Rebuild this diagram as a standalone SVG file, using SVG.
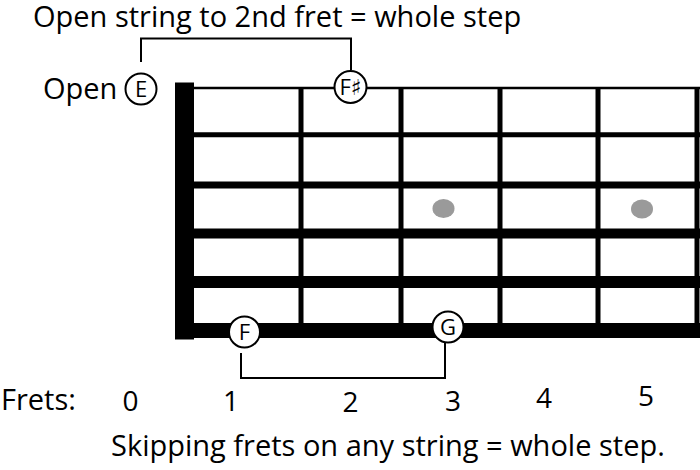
<svg xmlns="http://www.w3.org/2000/svg" width="700" height="470" viewBox="0 0 700 470">
<style>
text{font-family:"Open Sans","DejaVu Sans",sans-serif;fill:#000}
.lbl{font-size:29px}
.num{font-size:28px;text-anchor:middle}
.note{font-size:22px;text-anchor:middle}
.str{stroke:#000;fill:none}
.fret{stroke:#000;stroke-width:5;fill:none}
.circ{fill:#fff;stroke:#000;stroke-width:2}
.brk{fill:none;stroke:#000;stroke-width:2}
.dot{fill:#9a9a9a}
</style>
<rect width="700" height="470" fill="#fff"/>
<g id="title"><text class="lbl" x="33" y="27">Open string to 2nd fret = whole step</text></g>
<g id="fretboard">
<rect x="175" y="82.5" width="19" height="257" fill="#000"/>
<line class="fret" x1="301" y1="88" x2="301" y2="330"/>
<line class="fret" x1="401" y1="88" x2="401" y2="330"/>
<line class="fret" x1="500" y1="88" x2="500" y2="330"/>
<line class="fret" x1="598" y1="88" x2="598" y2="330"/>
<line class="fret" x1="697" y1="88" x2="697" y2="330"/>
<line class="str" x1="194" y1="88" x2="700" y2="88" stroke-width="2.5"/>
<line class="str" x1="194" y1="134.7" x2="700" y2="134.7" stroke-width="5"/>
<line class="str" x1="194" y1="185" x2="700" y2="185" stroke-width="7"/>
<line class="str" x1="194" y1="233.5" x2="700" y2="233.5" stroke-width="10"/>
<line class="str" x1="194" y1="282" x2="700" y2="282" stroke-width="12"/>
<line class="str" x1="194" y1="330.5" x2="700" y2="330.5" stroke-width="15"/>
<ellipse class="dot" cx="443.5" cy="208.5" rx="11" ry="9.5"/>
<ellipse class="dot" cx="642" cy="209" rx="11" ry="9.5"/>
</g>
<g id="connectors">
<polyline class="brk" points="141,62 141,38.5 351,38.5 351,70"/>
<polyline class="brk" points="241,353 241,378 445,378 445,343"/>
</g>
<g id="open-label"><text class="lbl" x="43" y="99" font-size="30">Open</text></g>
<g id="note-E"><circle class="circ" cx="141" cy="89" r="15.5"/><text class="note" x="141" y="97">E</text></g>
<g id="note-Fsharp"><circle class="circ" cx="350.5" cy="87" r="16"/><text class="note" x="350.5" y="95">F♯</text></g>
<g id="note-F"><circle class="circ" cx="244.5" cy="332" r="15.5"/><text class="note" x="244.5" y="340">F</text></g>
<g id="note-G"><circle class="circ" cx="448" cy="327" r="15.5"/><text class="note" x="448" y="335">G</text></g>
<g id="fret-numbers">
<text class="lbl" x="1" y="410" font-size="28">Frets:</text>
<text class="num" x="130.5" y="411">0</text>
<text class="num" x="231" y="411">1</text>
<text class="num" x="350.5" y="412">2</text>
<text class="num" x="453" y="411">3</text>
<text class="num" x="544" y="408">4</text>
<text class="num" x="646" y="406">5</text>
</g>
<g id="caption"><text class="lbl" x="111" y="456">Skipping frets on any string = whole step.</text></g>
</svg>
